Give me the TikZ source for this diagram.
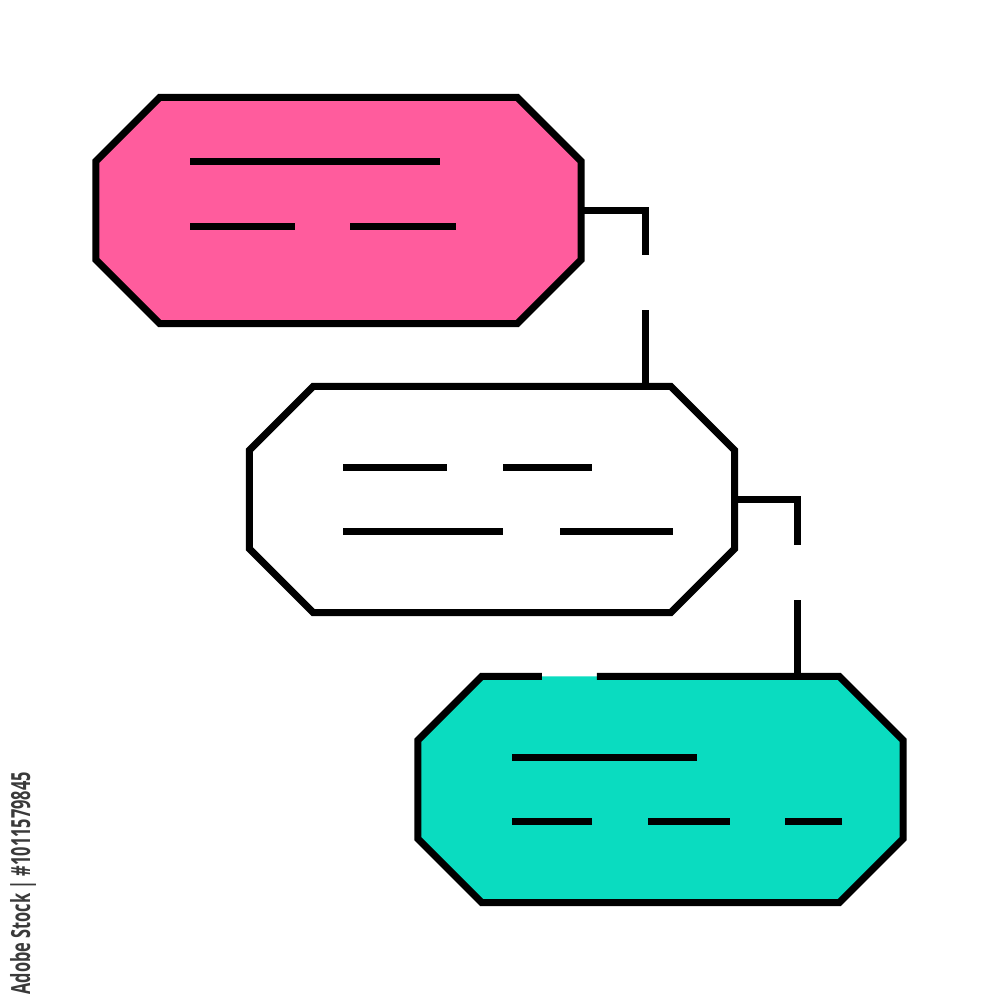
\documentclass[tikz,border=0pt]{standalone}
\usepackage{fontspec}
\usetikzlibrary{calc}
\newfontfamily\stockfont{Open Sans}
\definecolor{boxpink}{HTML}{FF5C9D}
\definecolor{boxteal}{HTML}{0ADCC0}
\definecolor{stockgray}{HTML}{3A3A3A}
\tikzset{
    slot/.style={minimum width=4.84cm, minimum height=2.25cm, inner sep=0pt},
    outline/.style={line width=0.7mm, line join=miter},
    bar/.style={line width=0.7mm},
    wire/.style={line width=0.7mm},
}
% octagon round a slot node, chamfer in picture units
\newcommand{\octagon}[1]{%
    ($(#1.north west)+(64,0)$) -- ($(#1.north east)+(-64,0)$)
    -- ($(#1.north east)+(0,64)$) -- ($(#1.south east)+(0,-64)$)
    -- ($(#1.south east)+(-64,0)$) -- ($(#1.south west)+(64,0)$)
    -- ($(#1.south west)+(0,-64)$) -- ($(#1.north west)+(0,64)$) -- cycle}
\begin{document}
\begin{tikzpicture}[x=0.1mm, y=-0.1mm]
    \useasboundingbox[fill=white] (0,0) rectangle (1000,1000);

    % boxes
    \node[slot] (top) at (338.5,210.5) {};
    \node[slot] (mid) at (492,499.5) {};
    \node[slot] (low) at (660.5,789.5) {};

    \fill[boxpink] \octagon{top};
    \draw[outline] \octagon{top};
    \fill[white] \octagon{mid};
    \draw[outline] \octagon{mid};
    \fill[boxteal] \octagon{low};
    % outline of the last box leaves a gap in its top edge
    \coordinate (lowgapa) at ($(low.north west)+(124,0)$);
    \coordinate (lowgapb) at ($(low.north west)+(179,0)$);
    \draw[outline] (lowgapb) -- ($(low.north east)+(-64,0)$)
        -- ($(low.north east)+(0,64)$) -- ($(low.south east)+(0,-64)$)
        -- ($(low.south east)+(-64,0)$) -- ($(low.south west)+(64,0)$)
        -- ($(low.south west)+(0,-64)$) -- ($(low.north west)+(0,64)$)
        -- ($(low.north west)+(64,0)$) -- (lowgapa);

    % text bars
    \draw[bar] (190,161) -- (440,161);
    \draw[bar] (190,226) -- (295,226);
    \draw[bar] (350,226) -- (456,226);
    \draw[bar] (343,467) -- (447,467);
    \draw[bar] (503,467) -- (592,467);
    \draw[bar] (343,531) -- (503,531);
    \draw[bar] (560,531) -- (673,531);
    \draw[bar] (512,757) -- (697,757);
    \draw[bar] (512,821) -- (592,821);
    \draw[bar] (648,821) -- (730,821);
    \draw[bar] (785,821) -- (842,821);

    % connectors, each broken once
    \coordinate (wireonea) at (645,255);
    \coordinate (wireoneb) at (645,310);
    \draw[wire] (top.east) -| (wireonea);
    \draw[wire] (wireoneb) -- (wireoneb |- mid.north);
    \coordinate (wiretwoa) at (797,545);
    \coordinate (wiretwob) at (797,600);
    \draw[wire] (mid.east) -| (wiretwoa);
    \draw[wire] (wiretwob) -- (wiretwob |- low.north);

    \node[rotate=90, anchor=west, inner sep=0pt, text=stockgray,
        font=\stockfont\bfseries\fontsize{7.5}{8}\selectfont] (stock) at (23,995)
        {\scalebox{0.62}[1]{Adobe Stock | \#1011579845}};
\end{tikzpicture}
\end{document}
